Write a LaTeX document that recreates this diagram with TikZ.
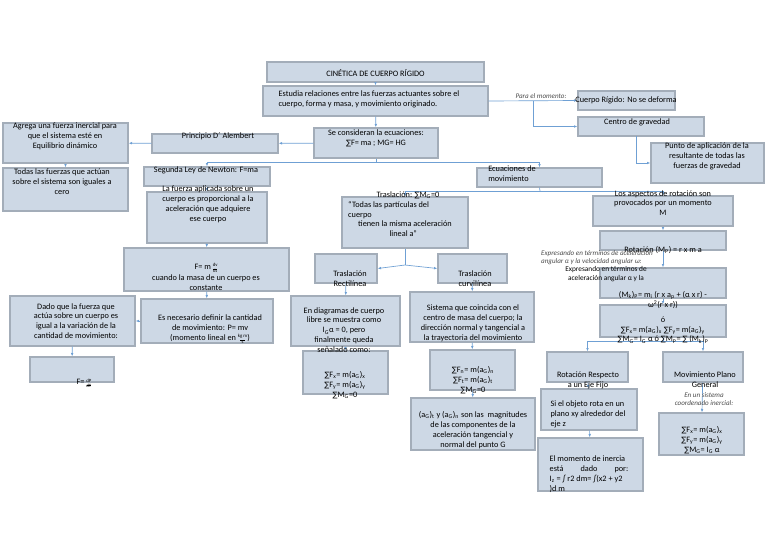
\documentclass[tikz,border=0pt]{standalone}
\usepackage{fontspec}
\setmainfont{Carlito}
\newfontfamily\djv{DejaVu Sans}
\newcommand{\Sm}{{\djv\fontsize{5.5}{6}\selectfont ∑}}
\newcommand{\sub}[1]{\textsubscript{#1}}
\newcommand{\sfr}[2]{\raisebox{-0.2ex}{\fontsize{3.6}{3.6}\selectfont\begin{tabular}{@{}c@{}}#1\\[-0.9ex]\rule{0.9em}{0.25pt}\\[-0.9ex]#2\end{tabular}}}
\usetikzlibrary{arrows.meta}
\definecolor{boxfill}{HTML}{CDD8E5}
\definecolor{boxline}{HTML}{A3ADB9}
\definecolor{arrowc}{HTML}{6FA0D4}
\begin{document}
\begin{tikzpicture}[x=0.75pt,y=-0.75pt,
  bx/.style={draw=boxline,fill=boxfill,line width=1pt},
  tx/.style={font=\fontsize{6.2}{7.4}\selectfont,align=center,inner sep=0pt},
  ar/.style={draw=arrowc,line width=0.5pt,-{Latex[length=2.5pt,width=2pt]}},
  ln/.style={draw=arrowc,line width=0.5pt},
  it/.style={font=\fontsize{5.3}{5.8}\selectfont\itshape\rmfamily,inner sep=0pt,text=black!70}]
\useasboundingbox (0,0) rectangle (768,543);
\fill[white] (0,0) rectangle (768,543);
% boxes
\node[bx,minimum width=217*0.75pt,minimum height=20*0.75pt] (title) at (375.5,72) {};
\node[bx,minimum width=225*0.75pt,minimum height=30*0.75pt] (est) at (375.5,101) {};
\node[bx,minimum width=124*0.75pt,minimum height=30*0.75pt] (sec) at (376,143) {};
\node[bx,minimum width=126*0.75pt,minimum height=19*0.75pt] (pda) at (215,143.5) {};
\node[bx,minimum width=125*0.75pt,minimum height=40*0.75pt] (agr) at (65.5,143) {};
\node[bx,minimum width=125*0.75pt,minimum height=43*0.75pt] (tod) at (65.5,189.5) {};
\node[bx,minimum width=126*0.75pt,minimum height=19*0.75pt] (seg) at (207,176.5) {};
\node[bx,minimum width=120*0.75pt,minimum height=51*0.75pt] (laf) at (207,217.5) {};
\node[bx,minimum width=165*0.75pt,minimum height=43*0.75pt] (fmv) at (206.5,269.5) {};
\node[bx,minimum width=132*0.75pt,minimum height=44*0.75pt] (esn) at (207,321) {};
\node[bx,minimum width=125*0.75pt,minimum height=50*0.75pt] (dad) at (72.5,321) {};
\node[bx,minimum width=84*0.75pt,minimum height=25*0.75pt] (fdp) at (72,369.5) {};
\node[bx,minimum width=97*0.75pt,minimum height=19*0.75pt] (crig) at (626.5,100.5) {};
\node[bx,minimum width=126*0.75pt,minimum height=19*0.75pt] (cgr) at (641,126.5) {};
\node[bx,minimum width=113*0.75pt,minimum height=40*0.75pt] (pun) at (707.5,163) {};
\node[bx,minimum width=125*0.75pt,minimum height=19*0.75pt] (ecu) at (539.5,177.5) {};
\node[bx,minimum width=126*0.75pt,minimum height=51*0.75pt] (tra) at (405,222.5) {};
\node[bx,minimum width=62*0.75pt,minimum height=29*0.75pt] (rec) at (346,268.5) {};
\node[bx,minimum width=69*0.75pt,minimum height=29*0.75pt] (cur) at (472.5,268.5) {};
\node[bx,minimum width=109*0.75pt,minimum height=50*0.75pt] (end) at (345.5,321) {};
\node[bx,minimum width=85*0.75pt,minimum height=43*0.75pt] (sfr) at (345.5,372.5) {};
\node[bx,minimum width=124*0.75pt,minimum height=50*0.75pt] (sis) at (472,317) {};
\node[bx,minimum width=85*0.75pt,minimum height=40*0.75pt] (sfc) at (472.5,370) {};
\node[bx,minimum width=124*0.75pt,minimum height=52*0.75pt] (atn) at (473,424) {};
\node[bx,minimum width=140*0.75pt,minimum height=30*0.75pt] (asp) at (663,211) {};
\node[bx,minimum width=126*0.75pt,minimum height=19*0.75pt] (rot) at (663,240.5) {};
\node[bx,minimum width=126*0.75pt,minimum height=30*0.75pt] (mom) at (663,283) {};
\node[bx,minimum width=126*0.75pt,minimum height=32*0.75pt] (sfo) at (663,321) {};
\node[bx,minimum width=81*0.75pt,minimum height=30*0.75pt] (rre) at (587.5,367) {};
\node[bx,minimum width=96*0.75pt,minimum height=41*0.75pt] (sio) at (589,409.5) {};
\node[bx,minimum width=105*0.75pt,minimum height=53*0.75pt] (min) at (590.5,464.5) {};
\node[bx,minimum width=80*0.75pt,minimum height=30*0.75pt] (mpg) at (703,367) {};
\node[bx,minimum width=85*0.75pt,minimum height=42*0.75pt] (sfp) at (701.5,434) {};
% connectors
\draw[ar] (title) -- (est);
\draw[ar] (est) -- (sec);
\draw[ar] (sec) -- (pda);
\draw[ar] (pda) -- (agr);
\draw[ar] (agr) -- (tod);
\draw[ar] (est.east) -- (crig.west);
\draw[ar] (533,101) |- (cgr.west);
\draw[ar] (636,136) |- (pun.west);
\coordinate (j1) at (376,162);
\draw[ln] (sec.south) -- (j1);
\draw[ar] (j1) -| (seg.north);
\draw[ar] (j1) -| (ecu.north);
\draw[ar] (seg) -- (laf);
\draw[ar] (laf) -- (fmv);
\draw[ar] (fmv) -- (esn);
\draw[ar] (esn) -- (dad);
\draw[ar] (dad) -- (fdp);
\coordinate (j2) at (540,191);
\draw[ln] (ecu.south) -- (j2);
\draw[ar] (j2) -| (tra.north);
\draw[ar] (j2) -| (asp.north);
\coordinate (j3) at (405,265);
\draw[ln] (tra.south) -- (j3);
\draw[ar] (j3) -- (rec.east);
\draw[ar] (j3) -- (cur.west);
\draw[ar] (rec) -- (end);
\draw[ar] (end) -- (sfr);
\draw[ar] (cur) -- (sis);
\draw[ar] (sis) -- (sfc);
\draw[ar] (sfc) -- (atn);
\draw[ar] (asp) -- (rot);
\draw[ar] (rot) -- (mom);
\draw[ar] (mom) -- (sfo);
\coordinate (j4) at (663,341);
\draw[ln] (sfo.south) -- (j4);
\draw[ar] (j4) -| (rre.north);
\draw[ar] (j4) -| (mpg.north);
\draw[ar] (rre) -- (sio);
\draw[ar] (sio) -- (min);
\draw[ar] (mpg) -- (sfp);
% texts
\node[tx] (t1) at (375.5,73) {CINÉTICA DE CUERPO RÍGIDO};
\node[tx,align=left] (t2) at (369,99) {Estudia relaciones entre las fuerzas actuantes sobre el\\cuerpo, forma y masa, y movimiento originado.};
\node[tx] (t3) at (376,138) {Se consideran la ecuaciones:\\\Sm F= ma ; MG= HG};
\node[tx] (t4) at (218,136) {Principio D´ Alembert};
\node[tx] (t5) at (65,136) {Agrega una fuerza inercial para\\que el sistema esté en\\Equilibrio dinámico};
\node[tx] (t6) at (62,182) {Todas las fuerzas que actúan\\sobre el sistema son iguales a\\cero};
\node[tx] (t7) at (206,170) {Segunda Ley de Newton: F=ma};
\node[tx] (t8) at (208,204) {La fuerza aplicada sobre un\\cuerpo es proporcional a la\\aceleración que adquiere\\ese cuerpo};
\node[tx] (t9) at (206,277) {F= m \sfr{dv}{dt}\\cuando la masa de un cuerpo es\\constante};
\node[tx] (t10) at (210,330) {Es necesario definir la cantidad\\de movimiento: P= mv\\(momento lineal en \sfr{kg m}{s})};
\node[tx] (t11) at (76,321) {Dado que la fuerza que\\actúa sobre un cuerpo es\\igual a la variación de la\\cantidad de movimiento:};
\node[tx] (t12) at (84,384) {F= \sfr{dP}{dT}};
\node[tx] (t13) at (626,100) {Cuerpo Rígido: No se deforma};
\node[tx] (t14) at (637,122) {Centro de gravedad};
\node[tx] (t15) at (707,156) {Punto de aplicación de la\\resultante de todas las\\fuerzas de gravedad};
\node[tx,align=left] (t16) at (512,174) {Ecuaciones de\\movimiento};
\node[tx] (t17) at (408,195) {Traslación: \Sm M\sub{G}=0};
\node[tx,align=left] (t18) at (400,219) {“Todas las partículas del\\cuerpo\\\hspace*{1.2em}tienen la misma aceleración\\\hspace*{5em}lineal a”};
\node[tx] (t19) at (350,279) {Traslación\\Rectilínea};
\node[tx] (t20) at (475,279) {Traslación\\curvilínea};
\node[tx] (t21) at (344,330) {En diagramas de cuerpo\\libre se muestra como\\I\sub{G}α = 0, pero\\finalmente queda\\señalado como:};
\node[tx] (t22) at (345,385) {\Sm F\sub{x}= m(a\sub{G})\sub{x}\\\Sm F\sub{y}= m(a\sub{G})\sub{y}\\\Sm M\sub{G}=0};
\node[tx] (t23) at (473,323) {Sistema que coincida con el\\centro de masa del cuerpo; la\\dirección normal y tangencial a\\la trayectoria del movimiento};
\node[tx] (t24) at (473,380) {\Sm F\sub{n}= m(a\sub{G})\sub{n}\\\Sm F\sub{t}= m(a\sub{G})\sub{t}\\\Sm M\sub{G}=0};
\node[tx] (t25) at (473,430) {(a\sub{G})\sub{t} y (a\sub{G})\sub{n} son las \ magnitudes\\de las componentes de la\\aceleración tangencial y\\normal del punto G};
\node[tx] (t26) at (663,203) {Los aspectos de rotación son\\provocados por un momento\\M};
\node[tx] (t27) at (663,250) {Rotación (M\sub{P}) = r x m a};
\node[tx] (t28) at (663,300) {(M\sub{k})\sub{P}= m\sub{i} (r x a\sub{p} + (α x r) -\\ω\textsuperscript{2}(r x r))};
\node[tx] (t29) at (663,330) {ó\\\Sm F\sub{x}= m(a\sub{G})\sub{x} \Sm F\sub{y}= m(a\sub{G})\sub{y}\\\Sm M\sub{G}= I\sub{G} α ó \Sm M\sub{P}= \Sm\ (M\sub{k})\sub{P}};
\node[tx] (t30) at (588,380) {Rotación Respecto\\a un Eje Fijo};
\node[tx,align=left] (t31) at (588,414) {Si el objeto rota en un\\plano xy alrededor del\\eje z};
\node[tx,align=left] (t32) at (589,474) {El momento de inercia\\está \hspace{1.6em} dado \hspace{1.6em} por:\\I\sub{z} = ∫ r2 dm= ∫(x2 + y2\\)d m};
\node[tx] (t33) at (705,380) {Movimiento Plano\\General};
\node[tx] (t34) at (702,440) {\Sm F\sub{x}= m(a\sub{G})\sub{x}\\\Sm F\sub{y}= m(a\sub{G})\sub{y}\\\Sm M\sub{G}= I\sub{G} α};
\node[it] (l1) at (541,96) {Para el momento:};
\node[it,align=left] (l2) at (597,258) {Expresando en términos de aceleración\\angular α y la velocidad angular ω:};
\node[tx,font=\fontsize{5.5}{6.5}\selectfont] (l3) at (606,274) {Expresando en términos de\\aceleración angular α y la};
\node[it,align=center] (l4) at (704,399) {En un sistema\\coordenado inercial:};
\end{tikzpicture}
\end{document}
